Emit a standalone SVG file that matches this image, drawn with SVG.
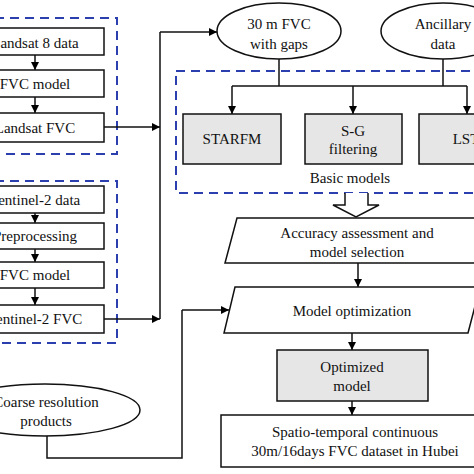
<svg xmlns="http://www.w3.org/2000/svg" width="474" height="474" viewBox="0 0 474 474">
<defs>
<marker id="ah" viewBox="0 0 10 10" refX="10" refY="5" markerWidth="8" markerHeight="8" markerUnits="userSpaceOnUse" orient="auto">
<path d="M0,0 L10,5 L0,10 z" fill="#000"/>
</marker>
<style>
text{font-family:"Liberation Serif","Times New Roman",serif;font-size:15px;fill:#111;text-anchor:middle}
.b{fill:#fff;stroke:#111;stroke-width:1.5}
.g{fill:#e6e6e6;stroke:#111;stroke-width:1.5}
.d{fill:none;stroke:#2b3fae;stroke-width:2;stroke-dasharray:9 6}
.c{fill:none;stroke:#111;stroke-width:1.5}
.a{fill:none;stroke:#111;stroke-width:1.5;marker-end:url(#ah)}
</style>
</defs>
<rect width="474" height="474" fill="#fff"/>

<g id="groups">
<rect class="d" x="-20" y="18" width="137" height="136"/>
<rect class="d" x="-20" y="181" width="137" height="162"/>
<rect class="d" x="176" y="71" width="320" height="122"/>
</g>

<g id="connectors">
<path class="a" d="M35,55 V70"/>
<path class="a" d="M35,97 V113"/>
<path class="a" d="M35,213 V223"/>
<path class="a" d="M35,249 V262"/>
<path class="a" d="M35,288 V305"/>
<path class="a" d="M104,127 H160"/>
<path class="a" d="M104,319 H160"/>
<path class="c" d="M160,319 V32"/>
<path class="a" d="M160,32 H217"/>
<path class="c" d="M279,59 V86"/>
<path class="c" d="M443,59 V86"/>
<path class="c" d="M232,86 H467"/>
<path class="a" d="M232,86 V114"/>
<path class="a" d="M353,86 V114"/>
<path class="a" d="M467,86 V114"/>
<path d="M345,193 V205 H333 L356,217 L379,205 H368 V193" fill="#fff" stroke="#111" stroke-width="1.5"/>
<path class="a" d="M358,263 V287"/>
<path class="a" d="M352,333 V350"/>
<path class="a" d="M352,401 V415"/>
<path class="c" d="M47,436 V458 H182 V310"/>
<path class="a" d="M182,310 H229"/>
</g>

<g id="landsat8">
<rect class="b" x="-34" y="28" width="138" height="27"/>
<text x="35" y="48">Landsat 8 data</text>
</g>
<g id="fvcmodel1">
<rect class="b" x="-34" y="70" width="138" height="27"/>
<text x="35" y="89">FVC model</text>
</g>
<g id="landsatfvc">
<rect class="b" x="-34" y="113" width="138" height="29"/>
<text x="35" y="133">Landsat FVC</text>
</g>

<g id="sentinel2">
<rect class="b" x="-34" y="186" width="138" height="27"/>
<text x="35" y="205">Sentinel-2 data</text>
</g>
<g id="preprocessing">
<rect class="b" x="-34" y="223" width="138" height="26"/>
<text x="35" y="241">Preprocessing</text>
</g>
<g id="fvcmodel2">
<rect class="b" x="-34" y="262" width="138" height="26"/>
<text x="35" y="280">FVC model</text>
</g>
<g id="sentinelfvc">
<rect class="b" x="-34" y="305" width="138" height="28"/>
<text x="35" y="324">Sentinel-2 FVC</text>
</g>

<g id="fvcgaps">
<ellipse class="b" cx="279" cy="31" rx="62" ry="28"/>
<text x="279" y="29">30 m FVC</text>
<text x="279" y="49">with gaps</text>
</g>
<g id="ancillary">
<ellipse class="b" cx="443" cy="31" rx="62" ry="28"/>
<text x="443" y="29">Ancillary</text>
<text x="443" y="49">data</text>
</g>

<g id="starfm">
<rect class="g" x="183" y="114" width="98" height="50"/>
<text x="232" y="144">STARFM</text>
</g>
<g id="sg">
<rect class="g" x="305" y="114" width="97" height="50"/>
<text x="353" y="136">S-G</text>
<text x="353" y="154">filtering</text>
</g>
<g id="lst">
<rect class="g" x="419" y="114" width="98" height="50"/>
<text x="466" y="144">LST</text>
</g>
<g id="basiclabel">
<text x="350" y="183">Basic models</text>
</g>

<g id="accuracy">
<path class="b" d="M237,218 H490 L478,263 H225 Z"/>
<text x="357" y="238">Accuracy assessment and</text>
<text x="357" y="257">model selection</text>
</g>
<g id="optimization">
<path class="b" d="M235,287 H480 L468,333 H224 Z"/>
<text x="352" y="316">Model optimization</text>
</g>
<g id="optimized">
<rect class="g" x="277" y="350" width="151" height="51"/>
<text x="352" y="372">Optimized</text>
<text x="352" y="391">model</text>
</g>
<g id="final">
<rect class="b" x="221" y="415" width="270" height="52"/>
<text x="355" y="437">Spatio-temporal continuous</text>
<text x="355" y="456">30m/16days FVC dataset in Hubei</text>
</g>
<g id="coarse">
<ellipse class="b" cx="45" cy="410" rx="95" ry="26"/>
<text x="46" y="407">Coarse resolution</text>
<text x="46" y="426">products</text>
</g>
</svg>
